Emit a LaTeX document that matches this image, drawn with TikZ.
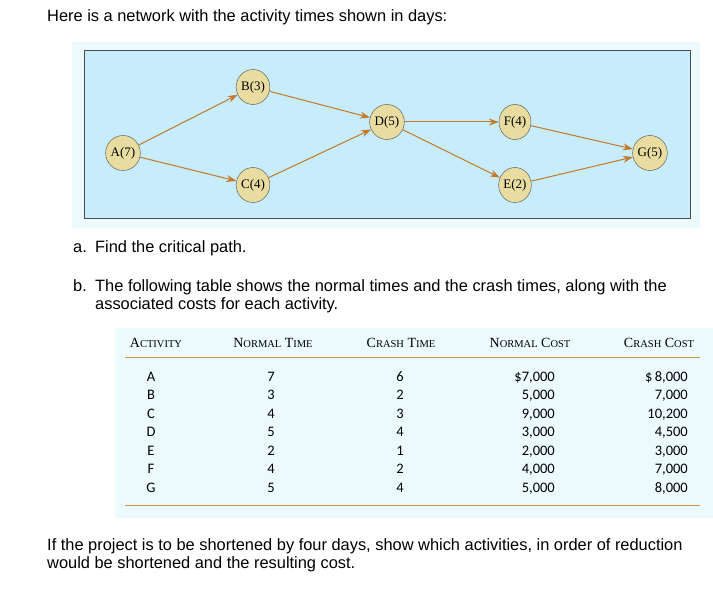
\documentclass[tikz,border=0pt]{standalone}
\usepackage{fontspec}
\setmainfont{Liberation Sans}
\newfontfamily\serifx{Liberation Serif}
\newfontfamily\tabf{Carlito}
\usetikzlibrary{arrows.meta,shapes.geometric}
\definecolor{outerbg}{RGB}{236,250,254}
\definecolor{innerbg}{RGB}{199,236,252}
\definecolor{nodefill}{RGB}{232,220,160}
\definecolor{arrowc}{RGB}{196,120,40}
\definecolor{rulec}{RGB}{200,150,70}
\tikzset{
  ev/.style={ellipse,draw=black!70,fill=nodefill,minimum width=32pt,minimum height=35pt,inner sep=0pt,font=\serifx\fontsize{13}{15}\selectfont},
  con/.style={draw=arrowc,line width=1pt,-{Stealth[length=10pt,width=7pt]}},
  txt/.style={anchor=base west,font=\fontsize{16.4}{19}\selectfont,inner sep=0pt},
  hd/.style={anchor=base,font=\serifx\fontsize{14}{16}\selectfont,inner sep=0pt},
  cell/.style={anchor=base,font=\tabf\fontsize{14.5}{16}\selectfont,inner sep=0pt},
  rcell/.style={anchor=base east,font=\tabf\fontsize{14.5}{16}\selectfont,inner sep=0pt}
}
\newcommand{\SC}[2]{#1{\fontsize{10.5}{12}\selectfont #2}}
\newcommand{\trow}[7]{%
  \node[cell] (ra#1) at (151,#2) {#3};
  \node[cell] (rn#1) at (271,#2) {#4};
  \node[cell] (rc#1) at (400,#2) {#5};
  \node[rcell] (rnc#1) at (555,#2) {#6};
  \node[rcell] (rcc#1) at (688,#2) {#7};}
\begin{document}
\begin{tikzpicture}[x=1pt,y=-1pt]
\useasboundingbox (0,0) rectangle (713,607);
\fill[white] (0,0) rectangle (713,607);
\node[txt] (t0) at (47,22) {Here is a network with the activity times shown in days:};
\fill[outerbg] (72,42) rectangle (700,228);
\draw[fill=innerbg,draw=black!70,line width=0.8pt] (84,50) rectangle (690,218);
\node[ev] (A) at (123,153) {A(7)};
\node[ev] (B) at (253,87) {B(3)};
\node[ev] (C) at (253,185) {C(4)};
\node[ev] (D) at (387,122) {D(5)};
\node[ev] (F) at (515,122) {F(4)};
\node[ev] (E) at (515,185) {E(2)};
\node[ev] (G) at (650,153) {G(5)};
\draw[con] (A) -- (B);
\draw[con] (A) -- (C);
\draw[con] (B) -- (D);
\draw[con] (C) -- (D);
\draw[con] (D) -- (F);
\draw[con] (D) -- (E);
\draw[con] (F) -- (G);
\draw[con] (E) -- (G);
\node[txt] (la) at (73,253) {a.};
\node[txt] (ta) at (95,253) {Find the critical path.};
\node[txt] (lb) at (73,291) {b.};
\node[txt] (tb) at (95,291) {The following table shows the normal times and the crash times, along with the};
\node[txt] (tb2) at (95,309) {associated costs for each activity.};
\fill[outerbg] (115,328) rectangle (713,518);
\node[hd] (h1) at (156,347) {\SC{A}{CTIVITY}};
\node[hd] (h2) at (273,347) {\SC{N}{ORMAL} \SC{T}{IME}};
\node[hd] (h3) at (401,347) {\SC{C}{RASH} \SC{T}{IME}};
\node[hd] (h4) at (530,347) {\SC{N}{ORMAL} \SC{C}{OST}};
\node[hd] (h5) at (659,347) {\SC{C}{RASH} \SC{C}{OST}};
\draw[rulec,line width=0.8pt] (125,357) -- (700,357);
\draw[rulec,line width=0.8pt] (125,505) -- (700,505);
\trow{0}{381}{A}{7}{6}{\$7,000}{\$\,8,000}
\trow{1}{399.5}{B}{3}{2}{5,000}{7,000}
\trow{2}{418}{C}{4}{3}{9,000}{10,200}
\trow{3}{436.5}{D}{5}{4}{3,000}{4,500}
\trow{4}{455}{E}{2}{1}{2,000}{3,000}
\trow{5}{473.5}{F}{4}{2}{4,000}{7,000}
\trow{6}{492}{G}{5}{4}{5,000}{8,000}
\node[txt] (t1) at (47,550) {If the project is to be shortened by four days, show which activities, in order of reduction};
\node[txt] (t2) at (47,568) {would be shortened and the resulting cost.};
\end{tikzpicture}
\end{document}
